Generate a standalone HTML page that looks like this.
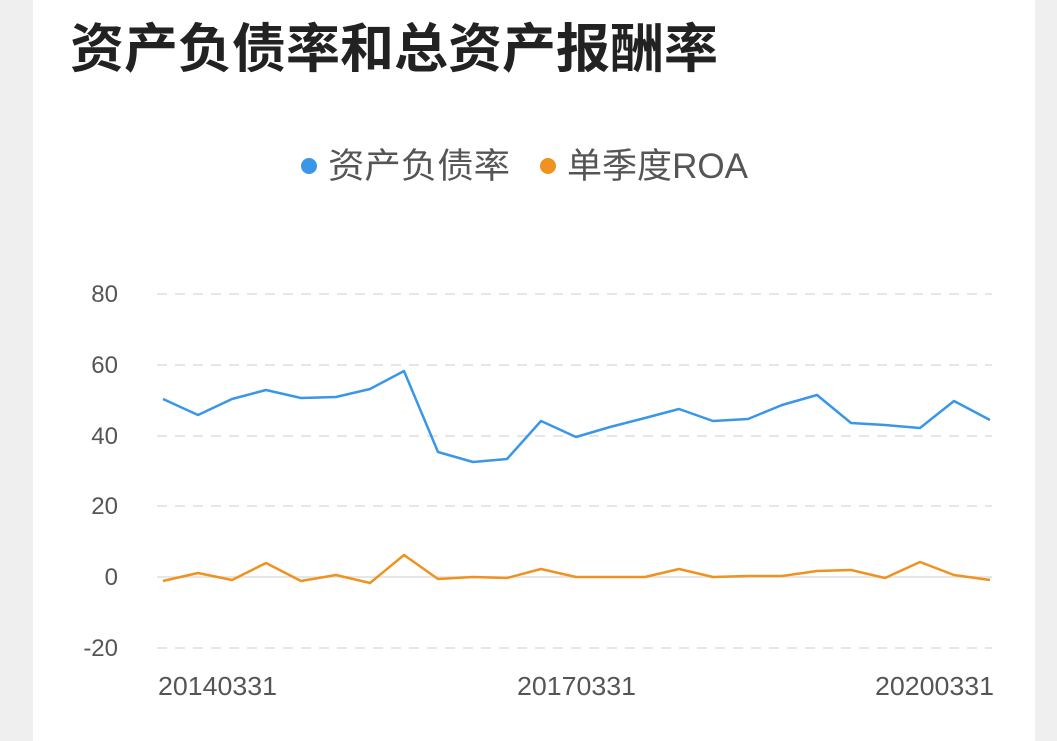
<!DOCTYPE html>
<html><head><meta charset="utf-8"><style>
body{margin:0;width:1057px;height:741px;background:#efefef;overflow:hidden;font-family:"Liberation Sans","Noto Sans CJK SC",sans-serif}
.card{position:absolute;left:33px;top:0;width:1002px;height:741px;background:#fff}
</style></head><body>
<div class="card"></div>
<svg width="1057" height="741" style="position:absolute;left:0;top:0" font-family="Liberation Sans, Noto Sans CJK SC, sans-serif">
<text x="70" y="67" font-size="53" font-weight="bold" fill="#222" textLength="648" lengthAdjust="spacingAndGlyphs">资产负债率和总资产报酬率</text>
<circle cx="309" cy="166" r="8" fill="#3a97e8"/>
<text x="328" y="178" font-size="35" fill="#555" textLength="182" lengthAdjust="spacingAndGlyphs">资产负债率</text>
<circle cx="548" cy="166" r="8" fill="#ef9220"/>
<text x="567" y="178" font-size="35" fill="#555" textLength="181" lengthAdjust="spacingAndGlyphs">单季度ROA</text>
<g stroke="#e6e6e6" stroke-width="2" stroke-dasharray="10,8">
<line x1="157" y1="294" x2="992" y2="294"/><line x1="157" y1="365" x2="992" y2="365"/>
<line x1="157" y1="436" x2="992" y2="436"/><line x1="157" y1="506" x2="992" y2="506"/>
<line x1="157" y1="648" x2="992" y2="648"/></g>
<line x1="157" y1="577" x2="992" y2="577" stroke="#e6e6e6" stroke-width="2"/>
<g font-size="24" fill="#555" text-anchor="end">
<text x="118" y="302">80</text><text x="118" y="373">60</text><text x="118" y="444">40</text>
<text x="118" y="514">20</text><text x="118" y="585">0</text><text x="118" y="656">-20</text></g>
<g font-size="26" fill="#555">
<text x="158" y="695" textLength="119" lengthAdjust="spacingAndGlyphs">20140331</text><text x="517" y="695" textLength="119" lengthAdjust="spacingAndGlyphs">20170331</text><text x="875" y="695" textLength="119" lengthAdjust="spacingAndGlyphs">20200331</text></g>
<polyline fill="none" stroke="#3a97e8" stroke-width="2.5" stroke-linejoin="round" points="163,399 198,415 232,399 266,390 301,398 336,397 370,389 404,371 438,452 473,462 507,459 541,421 576,437 610,427 645,418 679,409 713,421 748,419 782,405 817,395 851,423 885,425 920,428 954,401 990,420"/>
<polyline fill="none" stroke="#ef9220" stroke-width="2.5" stroke-linejoin="round" points="163,581 198,573 232,580 266,563 301,581 336,575 370,583 404,555 438,579 473,577 507,578 541,569 576,577 610,577 645,577 679,569 713,577 748,576 782,576 817,571 851,570 885,578 920,562 954,575 990,580"/>
</svg>
</body></html>
